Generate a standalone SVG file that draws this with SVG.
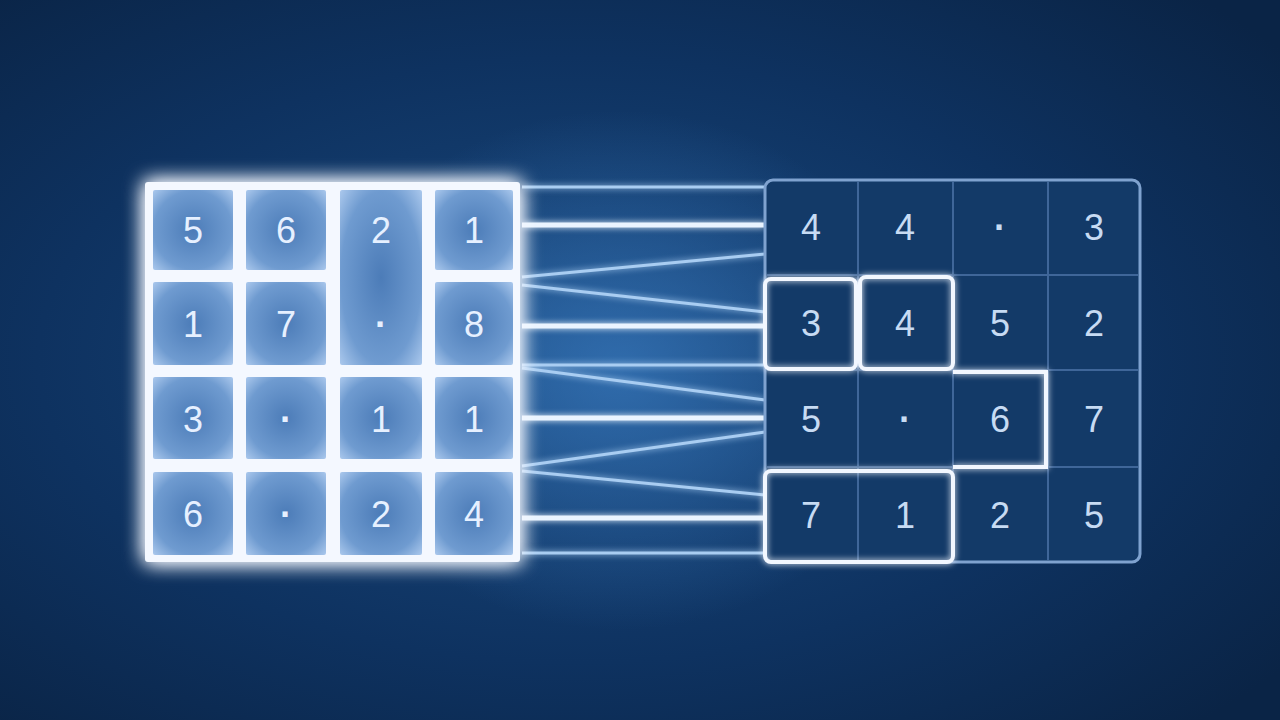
<svg xmlns="http://www.w3.org/2000/svg" width="1280" height="720" viewBox="0 0 1280 720">
<defs>
<radialGradient id="bg" cx="0.45" cy="0.5" r="0.7"><stop offset="0" stop-color="#1a4a80"/><stop offset="0.6" stop-color="#0e3260"/><stop offset="1" stop-color="#0a2446"/></radialGradient>
<radialGradient id="mid" cx="0.5" cy="0.5" r="0.5"><stop offset="0" stop-color="#3a7bc0" stop-opacity="0.7"/><stop offset="1" stop-color="#3a7bc0" stop-opacity="0"/></radialGradient>
<radialGradient id="cell" cx="0.5" cy="0.5" r="0.7"><stop offset="0" stop-color="#4c7cb8"/><stop offset="0.7" stop-color="#6f9bd0"/><stop offset="1" stop-color="#a9c7ec"/></radialGradient>
<filter id="glow" x="-30%" y="-30%" width="160%" height="160%"><feGaussianBlur in="SourceGraphic" stdDeviation="10" result="b"/><feMerge><feMergeNode in="b"/><feMergeNode in="b"/><feMergeNode in="SourceGraphic"/></feMerge></filter>
<filter id="glow2" x="-30%" y="-30%" width="160%" height="160%"><feGaussianBlur in="SourceGraphic" stdDeviation="3" result="b"/><feMerge><feMergeNode in="b"/><feMergeNode in="SourceGraphic"/></feMerge></filter>
</defs>
<style>
.lt{font-family:"Liberation Sans",Arial,sans-serif;font-size:36px;fill:#e6f0ff;text-anchor:middle}
.rt{font-family:"Liberation Sans",Arial,sans-serif;font-size:36px;fill:#c7dbf3;text-anchor:middle}
.c{fill:url(#cell)}
.hl{fill:none;stroke:#f2f7ff;stroke-width:4}
.ln{stroke:#a9cdf2;stroke-width:3}
.lnb{stroke:#eaf4ff;stroke-width:5}
</style>
<rect width="1280" height="720" fill="url(#bg)"/>
<ellipse cx="620" cy="370" rx="300" ry="260" fill="url(#mid)"/>
<g id="connectors" filter="url(#glow2)">
<line class="ln" x1="522" y1="187" x2="765" y2="187"/>
<line class="lnb" x1="522" y1="225" x2="765" y2="225"/>
<line class="ln" x1="522" y1="277" x2="765" y2="254"/>
<line class="ln" x1="522" y1="285" x2="765" y2="312"/>
<line class="lnb" x1="522" y1="326" x2="765" y2="326"/>
<line class="ln" x1="522" y1="365" x2="765" y2="365"/>
<line class="ln" x1="522" y1="368" x2="765" y2="400"/>
<line class="lnb" x1="522" y1="418" x2="765" y2="418"/>
<line class="ln" x1="522" y1="466" x2="765" y2="432"/>
<line class="ln" x1="522" y1="471" x2="765" y2="495"/>
<line class="lnb" x1="522" y1="518" x2="765" y2="518"/>
<line class="ln" x1="522" y1="553" x2="765" y2="553"/>
</g>
<g id="left-grid">
<rect x="145" y="182" width="375" height="380" rx="3" fill="#f4f8ff" filter="url(#glow)"/>
<rect x="153" y="190" width="80" height="80" rx="2" class="c"/>
<rect x="246" y="190" width="80" height="80" rx="2" class="c"/>
<rect x="340" y="190" width="82" height="175" rx="2" class="c"/>
<rect x="435" y="190" width="78" height="80" rx="2" class="c"/>
<rect x="153" y="282" width="80" height="83" rx="2" class="c"/>
<rect x="246" y="282" width="80" height="83" rx="2" class="c"/>
<rect x="435" y="282" width="78" height="83" rx="2" class="c"/>
<rect x="153" y="377" width="80" height="82" rx="2" class="c"/>
<rect x="246" y="377" width="80" height="82" rx="2" class="c"/>
<rect x="340" y="377" width="82" height="82" rx="2" class="c"/>
<rect x="435" y="377" width="78" height="82" rx="2" class="c"/>
<rect x="153" y="472" width="80" height="83" rx="2" class="c"/>
<rect x="246" y="472" width="80" height="83" rx="2" class="c"/>
<rect x="340" y="472" width="82" height="83" rx="2" class="c"/>
<rect x="435" y="472" width="78" height="83" rx="2" class="c"/>
<text class="lt" x="193" y="243">5</text><text class="lt" x="286" y="243">6</text><text class="lt" x="381" y="243">2</text><text class="lt" x="474" y="243">1</text>
<text class="lt" x="193" y="337">1</text><text class="lt" x="286" y="337">7</text><text class="lt" x="381" y="337" font-weight="bold">·</text><text class="lt" x="474" y="337">8</text>
<text class="lt" x="193" y="432">3</text><text class="lt" x="286" y="432" font-weight="bold">·</text><text class="lt" x="381" y="432">1</text><text class="lt" x="474" y="432">1</text>
<text class="lt" x="193" y="527">6</text><text class="lt" x="286" y="527" font-weight="bold">·</text><text class="lt" x="381" y="527">2</text><text class="lt" x="474" y="527">4</text>
</g>
<g id="right-grid">
<rect x="765" y="180" width="375" height="382" rx="8" fill="#133a68" stroke="#7fa2cf" stroke-width="3"/>
<g stroke="#3f6699" stroke-width="2">
<line x1="858" y1="182" x2="858" y2="560"/><line x1="953" y1="182" x2="953" y2="560"/><line x1="1048" y1="182" x2="1048" y2="560"/>
<line x1="767" y1="275" x2="1138" y2="275"/><line x1="767" y1="370" x2="1138" y2="370"/><line x1="767" y1="467" x2="1138" y2="467"/>
</g>
<text class="rt" x="811" y="240">4</text><text class="rt" x="905" y="240">4</text><text class="rt" x="1000" y="240" font-weight="bold">·</text><text class="rt" x="1094" y="240">3</text>
<text class="rt" x="811" y="336" fill="#eef5ff">3</text><text class="rt" x="905" y="336">4</text><text class="rt" x="1000" y="336">5</text><text class="rt" x="1094" y="336">2</text>
<text class="rt" x="811" y="432">5</text><text class="rt" x="905" y="432" font-weight="bold">·</text><text class="rt" x="1000" y="432">6</text><text class="rt" x="1094" y="432">7</text>
<text class="rt" x="811" y="528">7</text><text class="rt" x="905" y="528">1</text><text class="rt" x="1000" y="528">2</text><text class="rt" x="1094" y="528">5</text>
</g>
<g id="highlights" filter="url(#glow2)">
<rect class="hl" x="765" y="279" width="91" height="90" rx="6"/>
<rect class="hl" x="860" y="277" width="93" height="92" rx="6"/>
<path class="hl" d="M953,372 H1046 V467 H953"/>
<rect class="hl" x="765" y="471" width="188" height="91" rx="6"/>
</g>
</svg>
